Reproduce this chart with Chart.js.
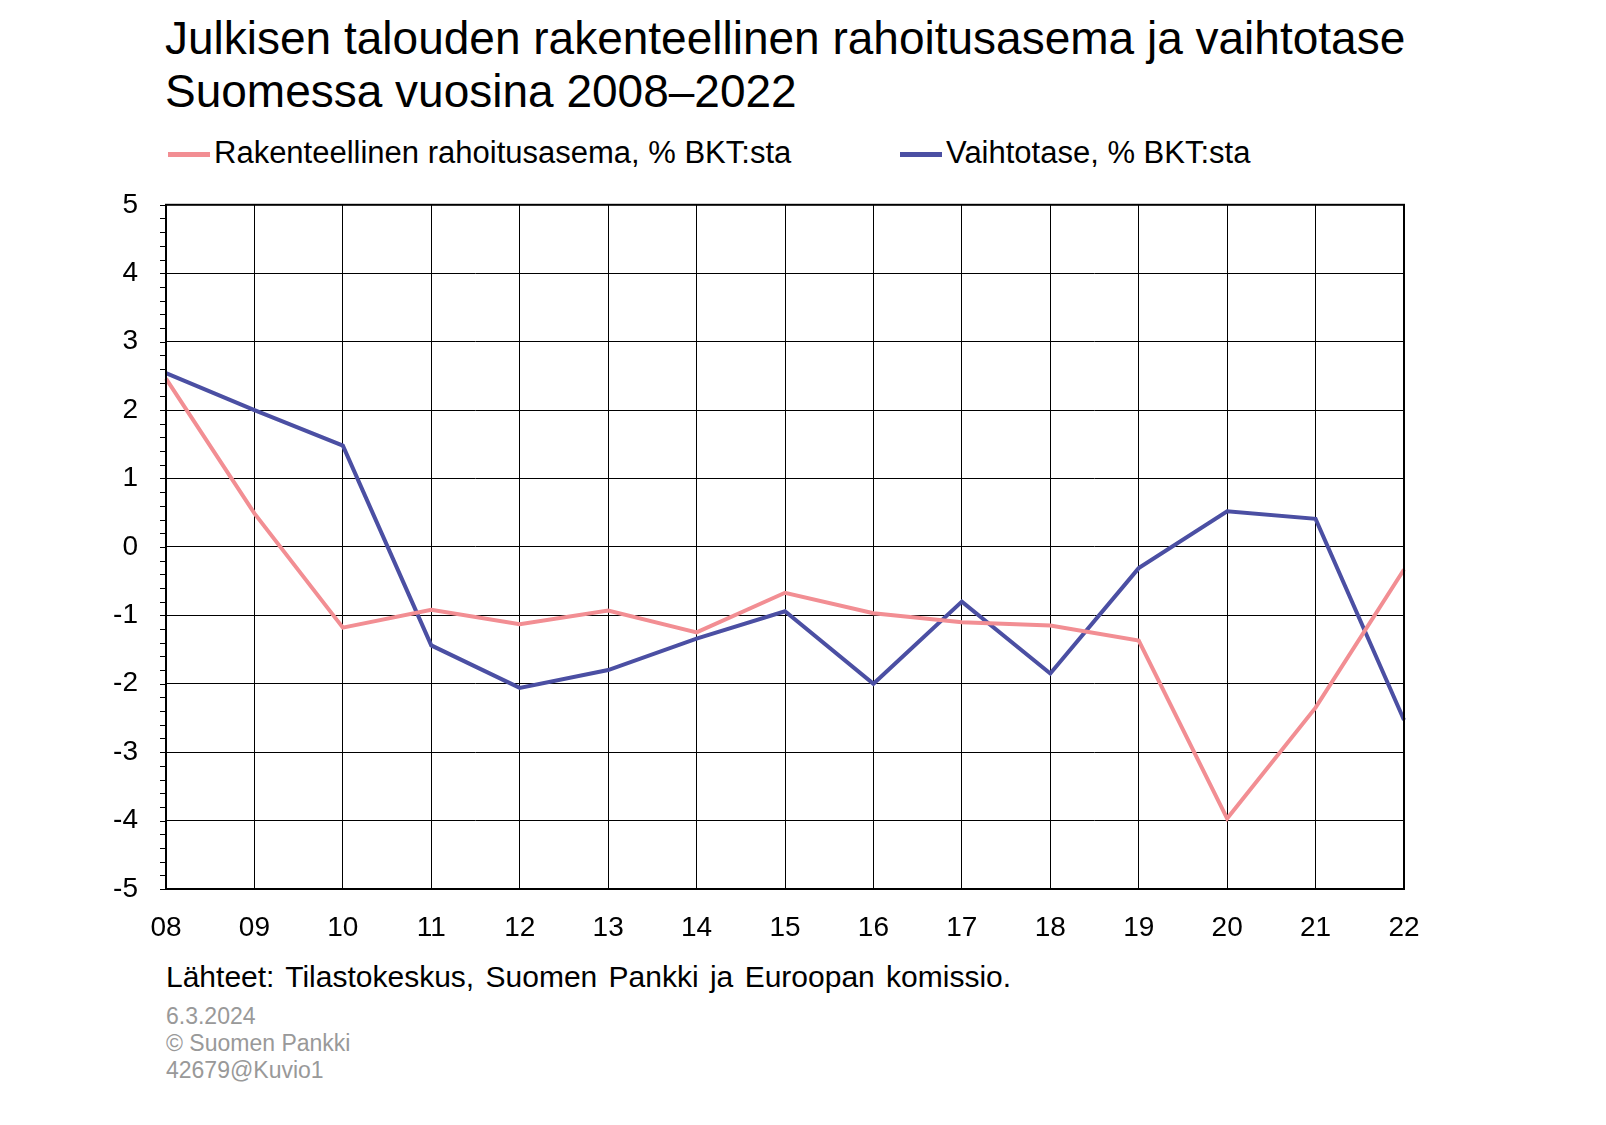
<!DOCTYPE html>
<html><head><meta charset="utf-8">
<script src="https://cdn.jsdelivr.net/npm/chart.js@4"></script>
<style>
body{margin:0;width:1606px;height:1125px;background:#fff;font-family:"Liberation Sans",Arial,sans-serif;position:relative;overflow:hidden}
.t{position:absolute;left:165px;top:12px;font-size:46px;line-height:53px;color:#000;white-space:nowrap}
.leg{position:absolute;top:135px;font-size:31px;color:#000;white-space:nowrap}
.leg span{display:inline-block;width:42px;height:5px;vertical-align:middle;margin-right:4px}
.src{position:absolute;left:166px;top:960px;font-size:30px;word-spacing:3px;white-space:nowrap}
.g{position:absolute;left:166px;top:1003px;font-size:23px;line-height:27px;color:#999}
#wrap{position:absolute;left:0;top:160px;width:1606px;height:800px}
</style></head><body>
<div class="t">Julkisen talouden rakenteellinen rahoitusasema ja vaihtotase<br>Suomessa vuosina 2008–2022</div>
<div class="leg" style="left:168px"><span style="background:#f28e93"></span>Rakenteellinen rahoitusasema, % BKT:sta</div>
<div class="leg" style="left:900px"><span style="background:#4b4fa3"></span>Vaihtotase, % BKT:sta</div>
<div id="wrap"><canvas id="c"></canvas></div>
<div class="src">Lähteet: Tilastokeskus, Suomen Pankki ja Euroopan komissio.</div>
<div class="g">6.3.2024<br>© Suomen Pankki<br>42679@Kuvio1</div>
<script>
const years = ['08','09','10','11','12','13','14','15','16','17','18','19','20','21','22'];
const structural = [2.46,0.49,-1.18,-0.92,-1.13,-0.93,-1.25,-0.67,-0.97,-1.10,-1.15,-1.37,-3.97,-2.35,-0.33];
const currentAccount = [2.54,2.0,1.48,-1.44,-2.06,-1.80,-1.34,-0.94,-2.0,-0.80,-1.85,-0.31,0.52,0.41,-2.53];

const minorTicks = {
  id:'minor',
  afterDraw(chart){
    const {ctx, scales:{y}, chartArea:a} = chart;
    ctx.save(); ctx.strokeStyle='#000'; ctx.lineWidth=1;
    for(let v=-5; v<=5.001; v+=0.2){
      const p=Math.round(y.getPixelForValue(v))+0.5;
      ctx.beginPath(); ctx.moveTo(a.left-6,p); ctx.lineTo(a.left,p); ctx.stroke();
    }
    ctx.lineWidth=2; ctx.strokeRect(a.left,a.top,a.right-a.left,a.bottom-a.top);
    ctx.restore();
  }
};

new Chart(document.getElementById('c'), {
  type:'line',
  data:{labels:years, datasets:[
    {data:structural, borderColor:'#f28e93', borderWidth:4, pointRadius:0, tension:0},
    {data:currentAccount, borderColor:'#4b4fa3', borderWidth:4, pointRadius:0, tension:0}
  ]},
  options:{
    responsive:true, maintainAspectRatio:false, animation:false,
    layout:{padding:{top:18,right:202,left:0,bottom:0}},
    plugins:{legend:{display:false}, tooltip:{enabled:false}},
    scales:{
      x:{offset:false, grid:{color:'#000', lineWidth:1, drawTicks:false}, border:{display:false},
         ticks:{color:'#000', font:{size:28, family:'Liberation Sans'}, padding:22, maxRotation:0},
         afterFit(s){s.height=71;}},
      y:{min:-5, max:5, grid:{color:'#000', lineWidth:1, drawTicks:false}, border:{display:false},
         ticks:{stepSize:1, color:'#000', font:{size:28, family:'Liberation Sans'}, padding:28},
         afterFit(s){s.width=166;}}
    }
  },
  plugins:[minorTicks]
});
</script>
</body></html>
